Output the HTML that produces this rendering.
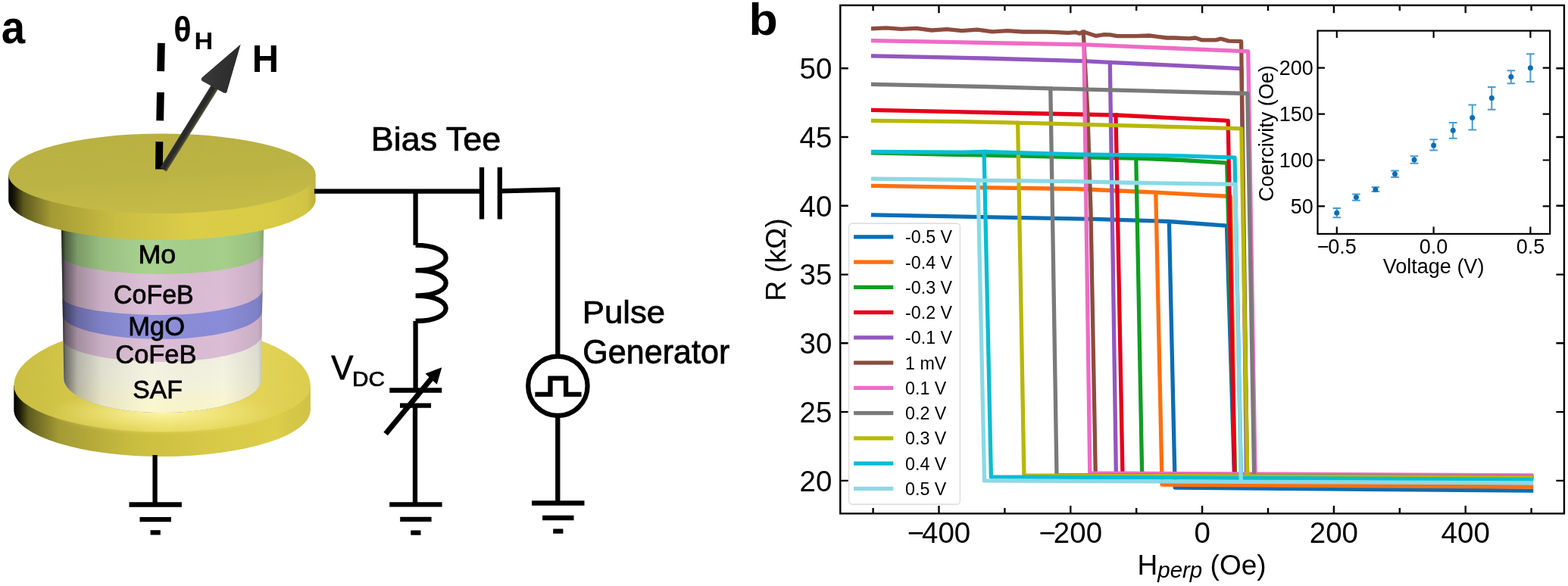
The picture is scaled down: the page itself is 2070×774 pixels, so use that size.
<!DOCTYPE html>
<html><head><meta charset="utf-8"><title>Figure</title>
<style>html,body{margin:0;padding:0;background:#fff;}body{width:2070px;height:774px;overflow:hidden;}svg{display:block;}</style>
</head><body>
<svg width="2070" height="774" viewBox="0 0 2070 774" font-family='"Liberation Sans", Arial, Helvetica, sans-serif'>
<defs>
<linearGradient id="sideT" x1="11" x2="417" y1="0" y2="0" gradientUnits="userSpaceOnUse">
<stop offset="0" stop-color="#000"/><stop offset="0.02" stop-color="#1a1a06"/><stop offset="0.05" stop-color="#5e5a1e"/><stop offset="0.14" stop-color="#a39a34"/><stop offset="0.35" stop-color="#c9bd42"/><stop offset="0.6" stop-color="#dccd48"/><stop offset="0.85" stop-color="#d9cb46"/><stop offset="0.97" stop-color="#d1c444"/><stop offset="1" stop-color="#bbaf3c"/></linearGradient>
<linearGradient id="faceT" x1="0" x2="0.3" y1="0" y2="1">
<stop offset="0" stop-color="#b8b042"/><stop offset="0.6" stop-color="#bbb344"/><stop offset="1" stop-color="#c4ba48"/></linearGradient>
<linearGradient id="sideB" x1="18" x2="410" y1="0" y2="0" gradientUnits="userSpaceOnUse">
<stop offset="0" stop-color="#000"/><stop offset="0.02" stop-color="#1a1a06"/><stop offset="0.05" stop-color="#5e5a1e"/><stop offset="0.15" stop-color="#a39a34"/><stop offset="0.4" stop-color="#c9bd40"/><stop offset="0.65" stop-color="#d7c846"/><stop offset="0.88" stop-color="#dccd4a"/><stop offset="1" stop-color="#cfc244"/></linearGradient>
<linearGradient id="faceB" x1="18" x2="410" y1="0" y2="0" gradientUnits="userSpaceOnUse">
<stop offset="0" stop-color="#c9be42"/><stop offset="0.3" stop-color="#d8ca4c"/><stop offset="0.5" stop-color="#e6d85e"/><stop offset="0.75" stop-color="#e4d65a"/><stop offset="1" stop-color="#dccd4e"/></linearGradient>
<radialGradient id="glowB"><stop offset="0" stop-color="#fcf4a8" stop-opacity="1"/><stop offset="0.5" stop-color="#f6ec8a" stop-opacity="0.6"/><stop offset="1" stop-color="#f2e67a" stop-opacity="0"/></radialGradient>
<linearGradient id="gMo" x1="0" y1="0" x2="0" y2="1"><stop offset="0" stop-color="#a5cf8a"/><stop offset="1" stop-color="#a5cf8a"/></linearGradient>
<linearGradient id="gCo" x1="0" y1="0" x2="0" y2="1"><stop offset="0" stop-color="#dbbdd5"/><stop offset="1" stop-color="#dbbdd5"/></linearGradient>
<linearGradient id="gCo2" x1="0" y1="0" x2="0" y2="1"><stop offset="0" stop-color="#dbbdd5"/><stop offset="1" stop-color="#dbbdd5"/></linearGradient>
<linearGradient id="gMg" x1="0" y1="0" x2="0" y2="1"><stop offset="0" stop-color="#8a8cd8"/><stop offset="1" stop-color="#8a8cd8"/></linearGradient>
<linearGradient id="gSAF" x1="0" y1="440" x2="0" y2="545" gradientUnits="userSpaceOnUse"><stop offset="0" stop-color="#eeede2"/><stop offset="0.6" stop-color="#f4f3e0"/><stop offset="1" stop-color="#fbf7c8"/></linearGradient>
<linearGradient id="cyl" x1="81.0" x2="348.1" y1="0" y2="0" gradientUnits="userSpaceOnUse">
<stop offset="0" stop-color="#000" stop-opacity="0.85"/><stop offset="0.02" stop-color="#000" stop-opacity="0.55"/><stop offset="0.08" stop-color="#000" stop-opacity="0.25"/><stop offset="0.2" stop-color="#000" stop-opacity="0.08"/><stop offset="0.45" stop-color="#fff" stop-opacity="0.05"/><stop offset="0.8" stop-color="#000" stop-opacity="0.0"/><stop offset="0.97" stop-color="#000" stop-opacity="0.08"/><stop offset="1" stop-color="#000" stop-opacity="0.2"/></linearGradient>
<linearGradient id="shaft" x1="212.3" y1="0" x2="221.3" y2="0" gradientUnits="userSpaceOnUse" gradientTransform="rotate(32 216.8 222)">
<stop offset="0" stop-color="#2e2e2c"/><stop offset="0.45" stop-color="#262624"/><stop offset="0.8" stop-color="#3a3a30"/><stop offset="1" stop-color="#55553c"/></linearGradient>
<linearGradient id="head" x1="0" y1="0" x2="1" y2="0.2"><stop offset="0" stop-color="#3c3c3c"/><stop offset="0.5" stop-color="#333333"/><stop offset="1" stop-color="#2b2b2b"/></linearGradient>
</defs>
<rect width="2070" height="774" fill="#fff"/>
<path d="M18.3,509 L18.3,542 A195.8,61.5 0 0 0 409.9,541 L409.9,510.2 Z" fill="url(#sideB)"/><path d="M18.3,509 A195.8,80 0 0 1 409.9,510.2 A195.8,61 0 0 1 18.3,509 Z" fill="url(#faceB)"/><ellipse cx="214" cy="545" rx="150" ry="30" fill="url(#glowB)"/><path d="M80.6,280 L348.6,280 L344.1,503 C344.1,526.2 286.0,545.0 214.2,545.0 C142.5,545.0 84.3,524.9 84.3,500.0 Z" fill="url(#gMo)"/><path d="M81.5,337 C81.5,350.8 141.1,362.0 214.5,362.0 C288.0,362.0 347.5,349.3 347.5,333.6 L344.1,503 C344.1,526.2 286.0,545.0 214.2,545.0 C142.5,545.0 84.3,524.9 84.3,500.0 Z" fill="url(#gCo)"/><path d="M82.5,392.4 C82.5,405.4 141.6,415.9 214.5,415.9 C287.4,415.9 346.6,400.8 346.6,382.3 L344.1,503 C344.1,526.2 286.0,545.0 214.2,545.0 C142.5,545.0 84.3,524.9 84.3,500.0 Z" fill="url(#gMg)"/><path d="M82.9,415.9 C82.9,433.5 141.8,447.8 214.4,447.8 C287.1,447.8 346.0,431.2 346.0,410.8 L344.1,503 C344.1,526.2 286.0,545.0 214.2,545.0 C142.5,545.0 84.3,524.9 84.3,500.0 Z" fill="url(#gCo2)"/><path d="M83.4,447.8 C83.4,464.5 142.1,478.0 214.4,478.0 C286.7,478.0 345.3,462.2 345.3,442.8 L344.1,503 C344.1,526.2 286.0,545.0 214.2,545.0 C142.5,545.0 84.3,524.9 84.3,500.0 Z" fill="url(#gSAF)"/><path d="M80.6,280 L348.6,280 L344.1,503 C344.1,526.2 286.0,545.0 214.2,545.0 C142.5,545.0 84.3,524.9 84.3,500.0 Z" fill="url(#cyl)"/><path d="M11.2,231 L11.2,264 A202.7,53 0 0 0 416.6,264 L416.6,231 Z" fill="url(#sideT)"/><path d="M11.2,231 A202.7,54.5 0 0 1 416.6,231 A202.7,51 0 0 1 11.2,231 Z" fill="url(#faceT)"/><path d="M212.9,56.8L212.2,94.1M211.9,122L211.2,159.3M210.4,187.1L209.9,223.5" stroke="#000" stroke-width="9.8"/><path d="M219.8,226.6 L293.5,108.8 L284.5,103.2 L211.4,221.4 Z" fill="url(#shaft)"/><path d="M317.7,58.4 L266.8,102.2 Q264.2,105.6 267.8,107.6 L295.2,122.6 Q299.6,124.4 300.0,119.6 Z" fill="url(#head)"/><path d="M415,252.6 H636 M636,221 V289.5 M659.8,221 V289.5 M659.8,252.3 L736.3,250.5 V470.6 M548.6,252.6 V323.8 M548.6,323.8 C602,323.8 602,357.2 548.6,357.2 C602,357.2 602,390.6 548.6,390.6 C602,390.6 602,424 548.6,424 M548.6,424 V515.5 M514.3,515.5 H583.3 M528,535.6 H569.1 M548,535.6 V666.4 M736.3,549 V664.5 M204.6,601 V666.5 M170.5,666.5 h69.4 M184.5,686.1 h41.4 M198.6,703.4 h13.2 M514.2,666.4 h69.4 M528.2,685.9 h41.4 M542.3,703.6 h13.2 M702.1,664.5 h69.4 M716.1,684.0 h41.4 M730.2,701.6 h13.2" stroke="#000" stroke-width="6.3" fill="none"/><circle cx="736.4" cy="509.8" r="39.2" stroke="#000" stroke-width="6.3" fill="none"/><path d="M706.4,520.9 H726.5 V499.7 H747.1 V520.9 H767.6" stroke="#000" stroke-width="6.3" fill="none"/><path d="M509.1,573 L572,497" stroke="#000" stroke-width="7"/><path d="M583.3,485.2 L561.5,493.5 L576.8,507.8 Z" fill="#000"/>
<g id="plot"><path d="M1152.6,284.0 L1445.0,289.4 L1543.0,292.5 L1619.5,298.2 L1630.0,644.7 L2021.6,648.1 M2021.6,648.1 L1551.2,644.0 L1543.4,293.0" fill="none" stroke="#0b6db5" stroke-width="5.3" stroke-linejoin="round" stroke-linecap="square"/><path d="M1152.6,245.5 L1270.0,247.4 L1420.0,249.5 L1500.0,253.0 L1525.8,254.2 L1624.5,259.5 L1630.5,640.6 L2021.6,643.0 M2021.6,643.0 L1534.1,640.0 L1525.8,254.2" fill="none" stroke="#ff6f0f" stroke-width="5.3" stroke-linejoin="round" stroke-linecap="square"/><path d="M1152.6,202.0 L1420.0,207.6 L1500.0,209.2 L1560.0,211.5 L1619.7,215.2 L1630.5,629.3 L2021.6,630.8 M2021.6,630.8 L1507.7,628.8 L1499.8,209.4" fill="none" stroke="#0e9f22" stroke-width="5.3" stroke-linejoin="round" stroke-linecap="square"/><path d="M1152.6,145.5 L1300.0,148.5 L1473.0,152.0 L1621.2,159.4 L1629.7,628.2 L2021.6,630.0 M2021.6,630.0 L1482.0,627.5 L1473.0,152.0" fill="none" stroke="#e5001b" stroke-width="5.3" stroke-linejoin="round" stroke-linecap="square"/><path d="M1152.6,74.0 L1300.0,77.0 L1430.0,80.6 L1465.3,82.4 L1639.0,90.6 L1645.5,628.1 L2021.6,630.0 M2021.6,630.0 L1473.4,627.3 L1465.3,82.4" fill="none" stroke="#9257c0" stroke-width="5.3" stroke-linejoin="round" stroke-linecap="square"/><path d="M1152.6,37.7 L1170.0,36.9 L1190.0,38.3 L1210.0,37.3 L1230.0,40.0 L1250.0,38.7 L1270.0,40.6 L1290.0,39.2 L1310.0,41.8 L1330.0,40.6 L1350.0,42.0 L1370.0,41.8 L1390.0,42.3 L1410.0,43.4 L1420.0,42.6 L1425.0,44.2 L1430.2,42.0 L1447.0,47.4 L1458.0,45.6 L1465.0,45.9 L1475.0,47.6 L1500.0,47.6 L1517.0,47.0 L1540.0,50.0 L1550.0,50.0 L1570.0,50.9 L1578.0,50.0 L1587.0,52.9 L1605.0,52.9 L1612.0,51.2 L1622.0,54.1 L1638.6,54.6 L1646.5,628.0 L2021.6,630.0 M2021.6,630.0 L1446.3,627.0 L1440.0,280.0 L1435.9,150.0 L1430.2,42.0" fill="none" stroke="#8d4c3e" stroke-width="5.3" stroke-linejoin="round" stroke-linecap="square"/><path d="M1152.6,53.6 L1300.0,56.5 L1431.0,58.9 L1647.7,67.9 L1657.0,626.0 L2021.6,627.8 M2021.6,627.8 L1438.8,625.0 L1430.9,58.5" fill="none" stroke="#ef6bc6" stroke-width="5.3" stroke-linejoin="round" stroke-linecap="square"/><path d="M1152.6,111.5 L1300.0,114.5 L1387.0,116.8 L1646.8,123.5 L1655.6,628.4 L2021.6,630.0 M2021.6,630.0 L1395.0,627.3 L1386.8,116.8" fill="none" stroke="#7a7a7a" stroke-width="5.3" stroke-linejoin="round" stroke-linecap="square"/><path d="M1152.6,159.5 L1270.0,160.7 L1343.6,162.1 L1420.0,164.2 L1638.8,169.8 L1646.8,629.0 L2021.6,630.6 M2021.6,630.6 L1351.9,627.8 L1343.6,162.1" fill="none" stroke="#b8b806" stroke-width="5.3" stroke-linejoin="round" stroke-linecap="square"/><path d="M1152.6,200.5 L1270.0,201.2 L1299.1,200.5 L1420.0,204.0 L1500.0,204.8 L1560.0,205.8 L1630.0,208.2 L1638.5,631.5 L2021.6,633.4 M2021.6,633.4 L1308.4,629.9 L1299.1,200.5" fill="none" stroke="#08bdd3" stroke-width="5.3" stroke-linejoin="round" stroke-linecap="square"/><path d="M1152.6,236.2 L1270.0,237.4 L1291.0,238.2 L1420.0,239.6 L1500.0,241.5 L1630.6,243.4 L1638.3,636.3 L2021.6,637.8 M2021.6,637.8 L1299.6,634.9 L1291.0,238.2" fill="none" stroke="#8bd9e6" stroke-width="5.3" stroke-linejoin="round" stroke-linecap="square"/></g>
<g id="axes"><rect x="1109.3" y="7.0" width="955.6" height="671.3" fill="none" stroke="#000" stroke-width="2.4"/><path d="M1152.6,678.3 v-7.2M1152.6,7.0 v7.2M1239.5,678.3 v-10.3M1239.5,7.0 v10.3M1326.4,678.3 v-7.2M1326.4,7.0 v7.2M1413.3,678.3 v-10.3M1413.3,7.0 v10.3M1500.2,678.3 v-7.2M1500.2,7.0 v7.2M1587.1,678.3 v-10.3M1587.1,7.0 v10.3M1674.0,678.3 v-7.2M1674.0,7.0 v7.2M1760.9,678.3 v-10.3M1760.9,7.0 v10.3M1847.8,678.3 v-7.2M1847.8,7.0 v7.2M1934.7,678.3 v-10.3M1934.7,7.0 v10.3M2021.6,678.3 v-7.2M2021.6,7.0 v7.2M1109.3,634.9 h10.5M2064.9,634.9 h-10.5M1109.3,544.1 h10.5M2064.9,544.1 h-10.5M1109.3,453.3 h10.5M2064.9,453.3 h-10.5M1109.3,362.6 h10.5M2064.9,362.6 h-10.5M1109.3,271.8 h10.5M2064.9,271.8 h-10.5M1109.3,181.0 h10.5M2064.9,181.0 h-10.5M1109.3,90.2 h10.5M2064.9,90.2 h-10.5" stroke="#000" stroke-width="2.4" fill="none"/><text x="1239.5" y="717" text-anchor="middle" font-size="38.5">−<tspan dx="-3.2">400</tspan></text><text x="1413.3" y="717" text-anchor="middle" font-size="38.5">−<tspan dx="-3.2">200</tspan></text><text x="1587.1" y="717" text-anchor="middle" font-size="38.5">0</text><text x="1760.9" y="717" text-anchor="middle" font-size="38.5">200</text><text x="1934.7" y="717" text-anchor="middle" font-size="38.5">400</text><text x="1098.3" y="648.6" text-anchor="end" font-size="38.5">20</text><text x="1098.3" y="557.8" text-anchor="end" font-size="38.5">25</text><text x="1098.3" y="467.0" text-anchor="end" font-size="38.5">30</text><text x="1098.3" y="376.3" text-anchor="end" font-size="38.5">35</text><text x="1098.3" y="285.5" text-anchor="end" font-size="38.5">40</text><text x="1098.3" y="194.7" text-anchor="end" font-size="38.5">45</text><text x="1098.3" y="103.9" text-anchor="end" font-size="38.5">50</text><text transform="translate(1037.3,343) rotate(-90)" text-anchor="middle" font-size="37.5">R (kΩ)</text><text x="1501.5" y="759" font-size="37">H<tspan font-style="italic" font-size="29.5" dy="4.3">perp</tspan><tspan dy="-4.3"> (Oe)</tspan></text></g>
<g id="legend"><rect x="1120.6" y="295.1" width="146.8" height="371.0" rx="4.5" fill="#fff" fill-opacity="0.8" stroke="#e0e0e0" stroke-width="1.6"/><line x1="1127.1" y1="312.9" x2="1179.3" y2="312.9" stroke="#0b6db5" stroke-width="5.3"/><text x="1195" y="321.4" font-size="23.3">-0.5 V</text><line x1="1127.1" y1="346.1" x2="1179.3" y2="346.1" stroke="#ff6f0f" stroke-width="5.3"/><text x="1195" y="354.6" font-size="23.3">-0.4 V</text><line x1="1127.1" y1="379.4" x2="1179.3" y2="379.4" stroke="#0e9f22" stroke-width="5.3"/><text x="1195" y="387.9" font-size="23.3">-0.3 V</text><line x1="1127.1" y1="412.6" x2="1179.3" y2="412.6" stroke="#e5001b" stroke-width="5.3"/><text x="1195" y="421.1" font-size="23.3">-0.2 V</text><line x1="1127.1" y1="445.9" x2="1179.3" y2="445.9" stroke="#9257c0" stroke-width="5.3"/><text x="1195" y="454.4" font-size="23.3">-0.1 V</text><line x1="1127.1" y1="479.1" x2="1179.3" y2="479.1" stroke="#8d4c3e" stroke-width="5.3"/><text x="1195" y="487.6" font-size="23.3">1 mV</text><line x1="1127.1" y1="512.4" x2="1179.3" y2="512.4" stroke="#ef6bc6" stroke-width="5.3"/><text x="1195" y="520.9" font-size="23.3">0.1 V</text><line x1="1127.1" y1="545.6" x2="1179.3" y2="545.6" stroke="#7a7a7a" stroke-width="5.3"/><text x="1195" y="554.1" font-size="23.3">0.2 V</text><line x1="1127.1" y1="578.9" x2="1179.3" y2="578.9" stroke="#b8b806" stroke-width="5.3"/><text x="1195" y="587.4" font-size="23.3">0.3 V</text><line x1="1127.1" y1="612.1" x2="1179.3" y2="612.1" stroke="#08bdd3" stroke-width="5.3"/><text x="1195" y="620.6" font-size="23.3">0.4 V</text><line x1="1127.1" y1="645.4" x2="1179.3" y2="645.4" stroke="#8bd9e6" stroke-width="5.3"/><text x="1195" y="653.9" font-size="23.3">0.5 V</text></g>
<g id="inset"><rect x="1739.5" y="40.6" width="306.7" height="268.3" fill="#fff" stroke="#000" stroke-width="2.2"/><path d="M1764.8,308.9 v-9.5M1764.8,40.6 v9.5M1892.6,308.9 v-9.5M1892.6,40.6 v9.5M2020.4,308.9 v-9.5M2020.4,40.6 v9.5M1739.5,272.4 h9.5M2046.2,272.4 h-9.5M1739.5,211.5 h9.5M2046.2,211.5 h-9.5M1739.5,150.6 h9.5M2046.2,150.6 h-9.5M1739.5,89.6 h9.5M2046.2,89.6 h-9.5" stroke="#000" stroke-width="2.2" fill="none"/><text x="1764.8" y="334.8" text-anchor="middle" font-size="27">−<tspan dx="-1.5">0.5</tspan></text><text x="1892.6" y="334.8" text-anchor="middle" font-size="27">0.0</text><text x="2020.4" y="334.8" text-anchor="middle" font-size="27">0.5</text><text x="1733.8" y="282.0" text-anchor="end" font-size="27">50</text><text x="1733.8" y="221.1" text-anchor="end" font-size="27">100</text><text x="1733.8" y="160.2" text-anchor="end" font-size="27">150</text><text x="1733.8" y="99.2" text-anchor="end" font-size="27">200</text><text x="1892.6" y="361" text-anchor="middle" font-size="27">Voltage (V)</text><text transform="translate(1681.2,176.2) rotate(-90)" text-anchor="middle" font-size="27">Coercivity (Oe)</text><path d="M1764.8,275V287.2M1759.5,275h10.6M1759.5,287.2h10.6M1790.4,256.4V264.8M1785.1,256.4h10.6M1785.1,264.8h10.6M1815.9,247.3V253.1M1810.6,247.3h10.6M1810.6,253.1h10.6M1841.5,225.6V234.0M1836.2,225.6h10.6M1836.2,234.0h10.6M1867.0,206.3V215.7M1861.7,206.3h10.6M1861.7,215.7h10.6M1892.6,184.2V198.6M1887.3,184.2h10.6M1887.3,198.6h10.6M1918.2,161.9V182.8M1912.9,161.9h10.6M1912.9,182.8h10.6M1943.7,138.6V171.4M1938.4,138.6h10.6M1938.4,171.4h10.6M1969.3,114.9V144.7M1964.0,114.9h10.6M1964.0,144.7h10.6M1994.8,93.3V110.2M1989.5,93.3h10.6M1989.5,110.2h10.6M2020.4,71.2V107.9M2015.1,71.2h10.6M2015.1,107.9h10.6" stroke="#4a9bd6" stroke-width="2" fill="none"/><circle cx="1764.8" cy="281.2" r="3.5" fill="#0b6db5"/><circle cx="1790.4" cy="260.6" r="3.5" fill="#0b6db5"/><circle cx="1815.9" cy="250.2" r="3.5" fill="#0b6db5"/><circle cx="1841.5" cy="229.8" r="3.5" fill="#0b6db5"/><circle cx="1867.0" cy="211.0" r="3.5" fill="#0b6db5"/><circle cx="1892.6" cy="192.1" r="3.5" fill="#0b6db5"/><circle cx="1918.2" cy="172.3" r="3.5" fill="#0b6db5"/><circle cx="1943.7" cy="155.6" r="3.5" fill="#0b6db5"/><circle cx="1969.3" cy="129.5" r="3.5" fill="#0b6db5"/><circle cx="1994.8" cy="101.6" r="3.5" fill="#0b6db5"/><circle cx="2020.4" cy="89.8" r="3.5" fill="#0b6db5"/></g>
<g id="labels"><text transform="translate(1.71,56.79) scale(0.5642,0.6073)" font-size="100" font-weight="bold">a</text><text transform="translate(988.62,46.00) scale(0.6260,0.5986)" font-size="100" font-weight="bold">b</text><text transform="translate(229.37,55.04) scale(0.4326,0.4608)" font-size="100" font-weight="bold">θ</text><text transform="translate(256.60,65.40) scale(0.3431,0.3087)" font-size="100" font-weight="bold">H</text><text transform="translate(332.87,95.20) scale(0.4897,0.4942)" font-size="100" font-weight="bold">H</text><text transform="translate(489.71,199.06) scale(0.4493,0.4351)" font-size="100" stroke="#000" stroke-width="1.70">Bias Tee</text><text transform="translate(768.80,427.28) scale(0.4370,0.4230)" font-size="100" stroke="#000" stroke-width="1.74">Pulse</text><text transform="translate(769.24,479.56) scale(0.4313,0.4394)" font-size="100" stroke="#000" stroke-width="1.72">Generator</text><text transform="translate(437.16,500.70) scale(0.4369,0.4493)" font-size="100" stroke="#000" stroke-width="1.69">V</text><text transform="translate(464.92,510.02) scale(0.2977,0.2803)" font-size="100" stroke="#000" stroke-width="2.60">DC</text><text transform="translate(182.53,348.16) scale(0.3583,0.3429)" font-size="100" stroke="#000" stroke-width="2.14">Mo</text><text transform="translate(150.00,401.16) scale(0.3399,0.3422)" font-size="100" stroke="#000" stroke-width="2.20">CoFeB</text><text transform="translate(169.24,442.64) scale(0.3451,0.3505)" font-size="100" stroke="#000" stroke-width="2.16">MgO</text><text transform="translate(152.28,479.96) scale(0.3445,0.3422)" font-size="100" stroke="#000" stroke-width="2.18">CoFeB</text><text transform="translate(175.31,525.86) scale(0.3376,0.3408)" font-size="100" stroke="#000" stroke-width="2.21">SAF</text></g>
</svg>
</body></html>
